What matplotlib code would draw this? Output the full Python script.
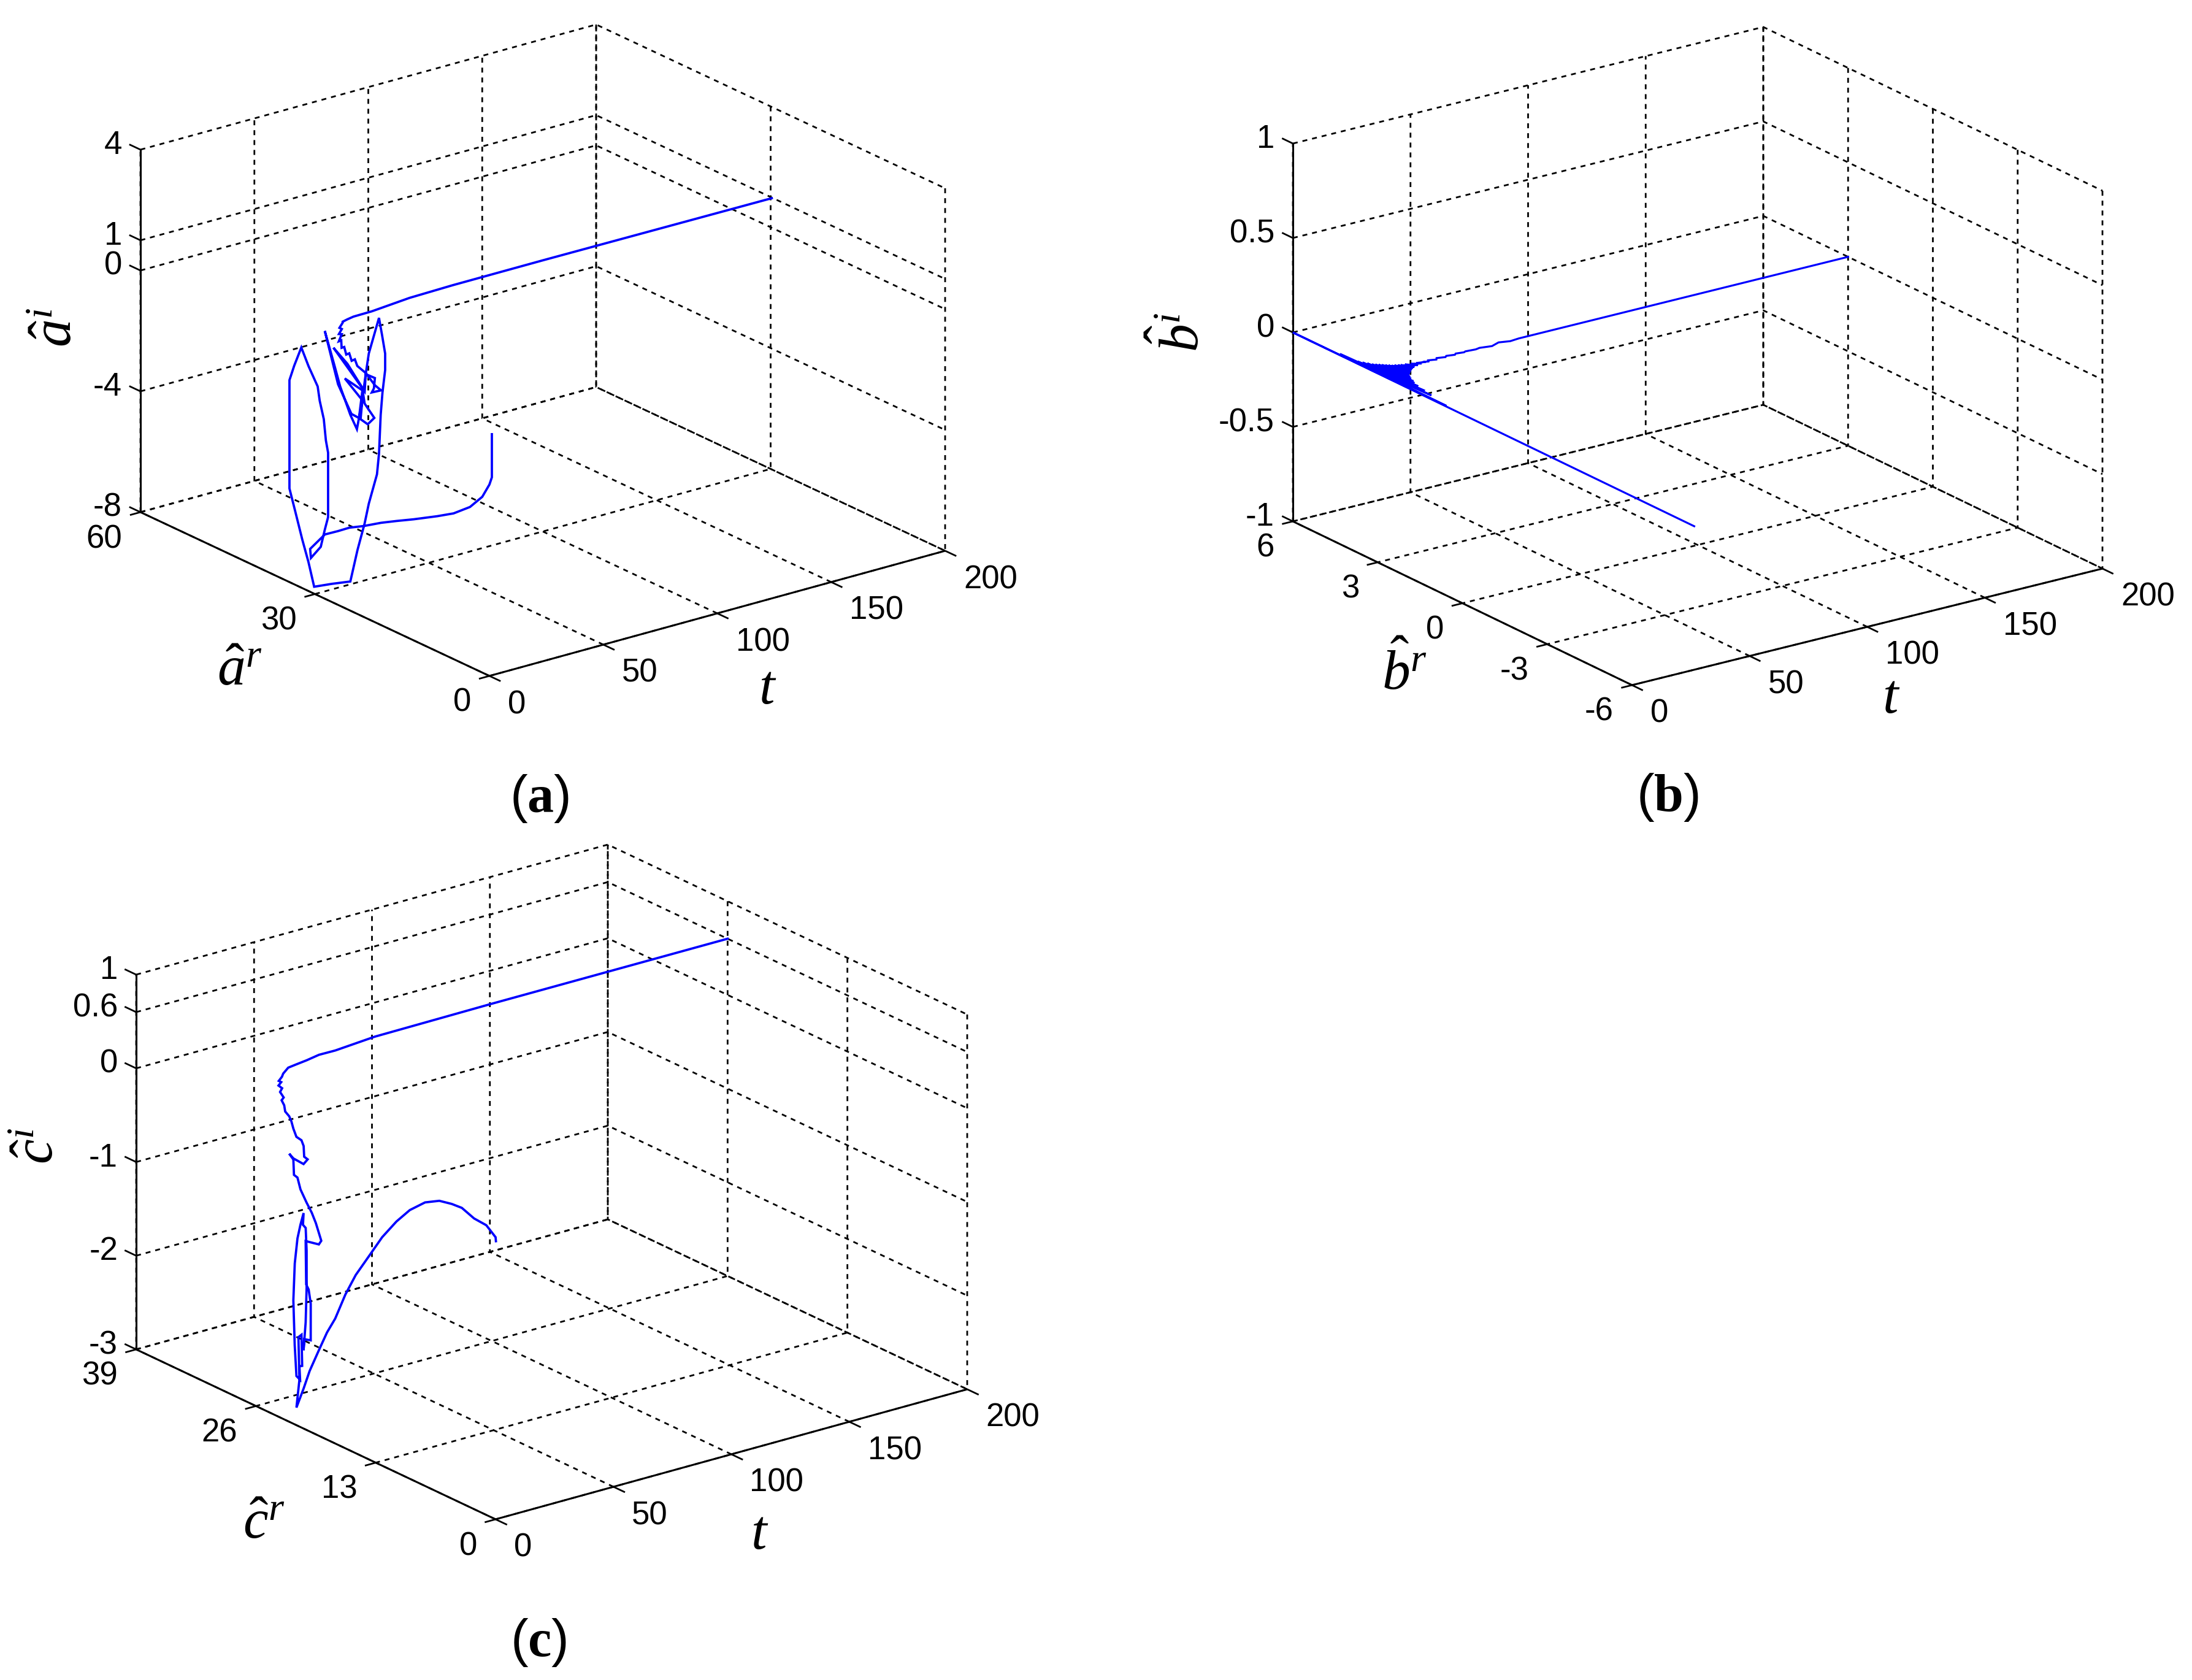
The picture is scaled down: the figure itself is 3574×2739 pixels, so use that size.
import numpy as np
import matplotlib
matplotlib.use('Agg')
from matplotlib import pyplot as plt
from mpl_toolkits.mplot3d import proj3d

W, H = 3574, 2739

plt.rcParams['font.family'] = ['Liberation Sans', 'DejaVu Sans']
plt.rcParams['mathtext.fontset'] = 'custom'
plt.rcParams['mathtext.rm'] = 'Liberation Serif'
plt.rcParams['mathtext.it'] = 'Liberation Serif:italic'
plt.rcParams['mathtext.bf'] = 'Liberation Serif:bold'
plt.rcParams['grid.color'] = 'black'
plt.rcParams['grid.linewidth'] = 2.0
plt.rcParams['grid.linestyle'] = (0, (2.9, 2.9))

t_ticks = [0, 50, 100, 150, 200]
t_labels = ['0', '50', '100', '150', '200']

# panel (a)
a_r_ticks = [0, 30, 60]
a_i_ticks = [-8, -4, 0, 1, 4]
a_r_labels = ['0', '30', '60']
a_i_labels = ['-8', '-4', '0', '1', '4']
a_t = [0, .05, .1, .15, .2, .25, .3, .35, .4, .45, .5, .55, .6, .65, .7, .75, .8, .85, .9, .95,
       1, 1.05, 1.1, 1.15, 1.2, 1.25, 1.3, 1.35, 1.4, 1.45, 1.5, 1.55, 1.6, 1.65, 1.7, 1.75, 1.8, 1.85, 1.9, 1.95,
       2, 2.05, 2.1, 2.15, 2.2, 2.25, 2.3, 2.35, 2.4, 2.45, 2.5, 2.55, 2.6, 2.65, 2.7, 2.75, 2.8, 2.85, 2.9, 2.95,
       3, 3.05, 3.1, 3.15, 3.2, 3.25, 3.3, 3.35, 3.4, 3.45, 3.5, 3.55, 3.6, 3.65, 3.7, 3.75, 3.8, 3.85,
       3.9, 3.92, 3.94, 3.96, 3.98, 4.0, 4.02, 4.04, 4.06, 4.08, 4.1, 4.12, 4.14, 4.16, 4.2,
       6, 10, 20, 40, 60, 100, 200]
a_re = [-.42, -.40, .04, 1.29, 3.42, 6.26, 9.09, 13.15, 16.16, 18.81, 21.82, 24.30, 26.26, 28.55, 31.10, 30.98, 29.31, 28.63, 28.09, 28.11,
        28.51, 28.89, 29.61, 29.98, 31.58, 32.83, 34.08, 34.91, 34.93, 33.97, 32.76, 31.72, 30.76, 27.72, 24.58, 23.37, 22.16, 21.47, 20.08, 19.75,
        19.48, 19.19, 18.75, 18.77, 19.32, 19.87, 21.64, 22.19, 22.74, 23.11, 21.90, 20.79, 22.47, 22.84, 25.92, 22.88, 23.53, 23.90, 25.05, 26.82,
        27.90, 29.50, 27.24, 25.84, 24.98, 23.70, 23.09, 25.74, 28.15, 25.43, 22.82, 22.66, 21.10, 21.29, 21.67, 20.10, 21.18, 22.78,
        24.25, 24.67, 25.23, 25.65, 26.18, 26.53, 26.99, 27.06, 27.48, 26.99, 27.48, 26.99, 27.41, 26.88, 26.88,
        26.78, 27.30, 28.06, 29.4, 29.8, 29.9, 29.8]
a_im = [.04, -1.39, -1.67, -2.19, -2.72, -3.19, -3.54, -4.01, -4.34, -4.64, -5.02, -5.30, -5.59, -5.91, -6.62, -6.91, -6.39, -5.76, -5.30, -3.17,
        -2.80, -2.13, -1.59, -1.15, -.62, -.12, -.84, -1.39, -4.98, -5.64, -6.48, -7.13, -7.86, -7.49, -7.13, -5.98, -4.99, -4.28, -3.18, -2.47,
        -1.16, -.39, .39, .93, 1.49, 2.01, .67, -.06, -.86, -1.64, -1.70, -1.39, -1.07, -.67, -.55, -1.01, -1.65, -2.05, -1.68, -.90,
        -.25, .69, -.87, -1.35, -1.65, -1.67, -.63, -.06, .25, -.24, -.72, -.13, -.12, -.48, -.65, -.44, -.37, -.11,
        -.01, .17, .07, .28, .19, .41, .34, .58, .51, .79, .75, .96, .96, 1.17, 1.21,
        1.26, 1.22, 1.12, 1.03, 1.0, .99, .98]

# panel (b)
b_r_ticks = [-6, -3, 0, 3, 6]
b_i_ticks = [-1, -.5, 0, .5, 1]
b_r_labels = ['-6', '-3', '0', '3', '6']
b_i_labels = ['-1', '-0.5', '0', '0.5', '1']
b_t = [0, 0, .4, .8, 1.2, 1.6, 2, 2.4, 2.8, 3.2, 3.6, 4, 4.4, 4.8, 5.2, 5.6, 6, 6.4, 6.8, 7.2, 7.6,
       8, 8.4, 8.8, 9.2, 9.6, 10, 10.5, 11, 11.5, 12, 12.5, 13, 14, 15, 16, 17, 18, 19, 20,
       21, 22, 24, 26, 28, 30, 32, 34, 36, 38, 41, 44, 48, 52, 56, 60, 100, 150, 200]
b_re = [-8.2, 6.0, .6, 4.4, 1.2, 4.1, 1.5, 3.9, 1.8, 3.8, 2.0, 3.7, 2.1, 3.6, 2.25, 3.55, 2.35, 3.5, 2.45, 3.45, 2.5,
        3.4, 2.55, 3.35, 2.6, 3.3, 2.65, 3.28, 2.7, 3.25, 2.75, 3.22, 2.78, 3.2, 2.82, 3.16, 2.86, 3.13, 2.89, 3.1,
        2.92, 3.08, 2.92, 3.08, 2.93, 3.07, 2.93, 3.07, 2.94, 3.06, 2.94, 3.06, 2.95, 3.05, 2.97, 3.0, 3.0, 3.0, 3.0]
b_im = [0, 0, 0, 0, .01, -.01, .01, -.01, .01, -.01, .01, -.01, .01, -.01, .01, -.01, .01, -.01, .01, -.01, .01,
        -.01, .01, -.01, .01, -.01, .01, -.01, .01, -.01, .01, -.01, .01, -.01, .01, -.01, .01, -.01, .01, -.01,
        .005, -.005, .005, -.005, .005, -.005, .005, -.005, .005, -.005, .005, -.005, 0, 0, 0, 0, 0, 0, 0]

# panel (c)
c_r_ticks = [0, 13, 26, 39]
c_i_ticks = [-3, -2, -1, 0, .6, 1]
c_r_labels = ['0', '13', '26', '39']
c_i_labels = ['-3', '-2', '-1', '0', '0.6', '1']
c_t = [0, .05, .1, .15, .2, .25, .3, .35, .4, .45, .5, .55, .6, .65, .7, .75, .8, .85, .9, .95,
       1, 1.05, 1.1, 1.15, 1.2, 1.25, 1.3, 1.35, 1.4, 1.45, 1.5, 1.55, 1.6, 1.65, 1.7, 1.75, 1.8, 1.85, 1.9, 1.95,
       2, 2.05, 2.1, 2.15, 2.2, 2.25, 2.3, 2.35, 2.4, 2.45, 2.5, 2.55, 2.6, 2.65, 2.7, 2.75, 2.8, 2.85, 2.9, 2.95,
       3, 3.05, 3.1, 3.15, 3.2, 3.25, 3.3, 3.34, 3.36, 3.38, 3.4, 3.42, 3.44, 3.46, 3.48, 4, 5, 7, 12, 20, 30, 50, 100, 200]
c_re = [-.04, .01, 1.03, 2.37, 3.71, 4.83, 6.18, 7.74, 9.41, 10.87, 12.43, 13.77, 15.33, 16.46, 17.58, 18.48, 19.37, 20.39, 21.06, 21.85,
        21.54, 21.66, 21.34, 21.28, 21.59, 21.53, 21.94, 22.14, 22.30, 22.16, 21.88, 21.57, 21.24, 21.32, 21.04, 20.95, 20.96, 21.08, 21.32, 21.27,
        20.57, 20.58, 20.82, 21.10, 21.17, 19.75, 19.50, 20.10, 20.56, 21.13, 21.81, 22.15, 22.54, 22.62, 23.08, 22.64, 21.55, 21.12, 21.51, 21.58,
        21.83, 22.39, 22.73, 22.97, 23.21, 23.66, 23.78, 24.07, 23.85, 24.25, 24.03, 24.43, 24.14, 24.41, 24.07, 24.07, 23.78, 23.51, 23.57, 24.28, 25.07, 25.9, 26.0, 26.0]
c_im = [-.03, .01, .09, .10, .15, .14, .11, .02, -.14, -.33, -.57, -.82, -1.11, -1.37, -1.68, -1.87, -2.10, -2.37, -2.59, -2.83,
        -2.52, -2.07, -2.03, -2.36, -2.38, -2.52, -2.50, -2.18, -1.71, -1.31, -1.03, -.87, -.73, -.86, -.88, -1.12, -1.50, -1.89, -2.20, -2.08,
        -2.06, -1.67, -1.53, -1.49, -1.03, -1.00, -.95, -.79, -.70, -.62, -.51, -.40, -.39, -.23, -.19, -.22, -.23, -.16, -.15, -.04,
        .01, .02, .09, .16, .20, .23, .29, .33, .37, .41, .46, .47, .52, .52, .58, .61, .68, .71, .72, .69, .63, .6, .6, .6]


# lay out one 3d box from where its three axes sit on the page (pixels, y down)
def make_box(fig, origin, t_end, r_end, z_top):
    tx, ty = t_end[0] - origin[0], origin[1] - t_end[1]
    rx, ry = origin[0] - r_end[0], origin[1] - r_end[1]
    zh = r_end[1] - z_top
    sin_el = np.sqrt(ty / tx * ry / rx)
    ang = np.arctan(ry / rx / sin_el)
    el = np.arcsin(sin_el)
    box = np.array([tx / np.sin(ang), rx / np.cos(ang), zh / np.cos(el)])
    side = np.linalg.norm(box) * 1.85 / (1.8294640721620434 * 25 / 24)
    cx = origin[0] + (tx - rx) / 2
    cy = origin[1] - (ty + ry + zh) / 2
    left = cx - side * 0.095 / 0.185
    bottom = (H - cy) - side * 0.095 / 0.185
    ax = fig.add_axes([left / W, bottom / H, side / W, side / H], projection='3d', proj_type='ortho')
    ax.view_init(elev=np.degrees(el), azim=-180 + np.degrees(ang), roll=0)
    ax.set_box_aspect(box)
    ax.patch.set_visible(False)
    return ax


def draw_panel(fig, origin, t_end, r_end, z_top, t, re, im, r_ticks, i_ticks, r_labels, i_labels, curve_lw):
    ax = make_box(fig, origin, t_end, r_end, z_top)
    rlim = (r_ticks[0], r_ticks[-1])
    zlim = (i_ticks[0], i_ticks[-1])
    ax.set_xlim(0, 200, view_margin=0)
    ax.set_ylim(rlim[0], rlim[1], view_margin=0)
    ax.set_zlim(zlim[0], zlim[1], view_margin=0)
    ax.set_xticks(t_ticks)
    ax.set_yticks(r_ticks)
    ax.set_zticks(i_ticks)
    ax.set_xticklabels([])
    ax.set_yticklabels([])
    ax.set_zticklabels([])
    for axis in (ax.xaxis, ax.yaxis, ax.zaxis):
        axis.pane.fill = False
        axis.pane.set_edgecolor('none')
        axis.line.set_color((1, 1, 1, 0))
        axis._axinfo['tick']['inward_factor'] = 0
        axis._axinfo['tick']['outward_factor'] = 0
        axis._axinfo['tick']['linewidth'] = {True: 0, False: 0}

    # solid axis lines
    k = dict(color='black', lw=2.2, solid_capstyle='butt')
    ax.plot([0, 200], [rlim[0], rlim[0]], [zlim[0], zlim[0]], **k)
    ax.plot([0, 0], [rlim[0], rlim[1]], [zlim[0], zlim[0]], **k)
    ax.plot([0, 0], [rlim[1], rlim[1]], [zlim[0], zlim[1]], **k)

    # outward tick stubs
    r_span = rlim[1] - rlim[0]
    s = dict(color='black', lw=2.0, solid_capstyle='butt')
    for v in t_ticks:
        ax.plot([v, v], [rlim[0], rlim[0] - 0.032 * r_span], [zlim[0], zlim[0]], **s)
    for v in r_ticks:
        ax.plot([0, -4.6], [v, v], [zlim[0], zlim[0]], **s)
    for v in i_ticks:
        ax.plot([0, 0], [rlim[1], rlim[1] + 0.032 * r_span], [v, v], **s)

    ax.plot(t, re, im, color=(0, 0, 1), lw=curve_lw, solid_joinstyle='miter')

    # tick labels, offset in pixels from their tick
    M = ax.get_proj()
    txt = dict(fontsize=38, color='black', textcoords='offset pixels', annotation_clip=False, va='center')
    for v, lab in zip(t_ticks, t_labels):
        x2, y2, _ = proj3d.proj_transform(v, rlim[0], zlim[0], M)
        ax.annotate(lab, (x2, y2), xytext=(30, -47), ha='left', **txt)
    for v, lab in zip(r_ticks, r_labels):
        x2, y2, _ = proj3d.proj_transform(0, v, zlim[0], M)
        ax.annotate(lab, (x2, y2), xytext=(-30, -44), ha='right', **txt)
    for v, lab in zip(i_ticks, i_labels):
        x2, y2, _ = proj3d.proj_transform(0, rlim[1], v, M)
        ax.annotate(lab, (x2, y2), xytext=(-30, 7), ha='right', **txt)
    return ax


def page_text(fig, x, y, s, size, rotation=0):
    fig.text(x / W, 1 - y / H, s, fontsize=size, rotation=rotation, ha='center', va='center', color='black')


fig = plt.figure(figsize=(W / 100, H / 100), dpi=100, facecolor='white')

draw_panel(fig, (798, 1102), (1541, 898), (229, 835), 244, a_t, a_re, a_im,
           a_r_ticks, a_i_ticks, a_r_labels, a_i_labels, 2.7)
draw_panel(fig, (2661, 1117), (3428, 927), (2108, 850), 234, b_t, b_re, b_im,
           b_r_ticks, b_i_ticks, b_r_labels, b_i_labels, 2.3)
draw_panel(fig, (808, 2477), (1577, 2265), (222, 2200), 1589, c_t, c_re, c_im,
           c_r_ticks, c_i_ticks, c_r_labels, c_i_labels, 2.7)

page_text(fig, 1252, 1123, r'$t$', 66)
page_text(fig, 391, 1093, r'$\hat{a}^{r}$', 66)
page_text(fig, 92, 534, r'$\hat{a}^{i}$', 66, rotation=90)
page_text(fig, 3084, 1138, r'$t$', 66)
page_text(fig, 2290, 1097, r'$\hat{b}^{r}$', 66)
page_text(fig, 1927, 542, r'$\hat{b}^{i}$', 66, rotation=90)
page_text(fig, 1239, 2501, r'$t$', 66)
page_text(fig, 430, 2484, r'$\hat{c}^{r}$', 66)
page_text(fig, 62, 1868, r'$\hat{c}^{i}$', 66, rotation=90)

page_text(fig, 880, 1302, r'($\mathbf{a}$)', 62)
page_text(fig, 2719, 1300, r'($\mathbf{b}$)', 62)
page_text(fig, 878, 2678, r'($\mathbf{c}$)', 62)

fig.savefig('out.png', dpi=100)
